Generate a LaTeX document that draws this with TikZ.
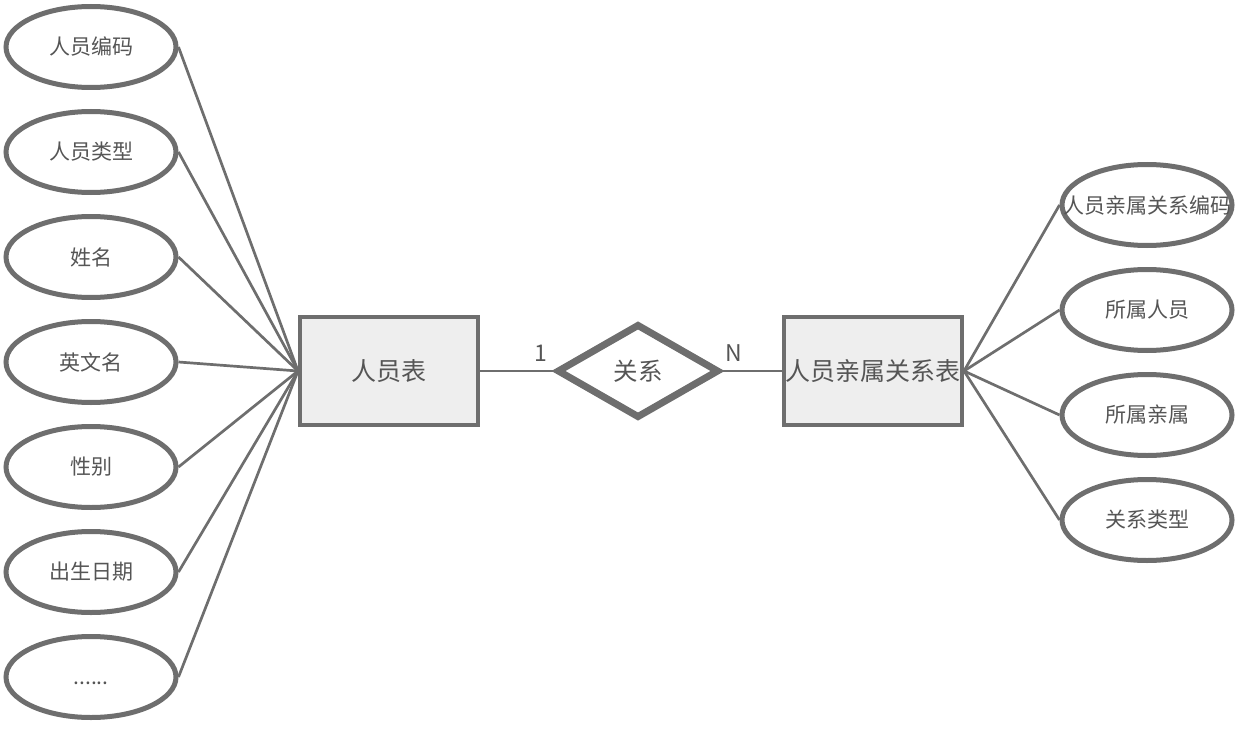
\documentclass[tikz,border=0pt]{standalone}
\usepackage{fontspec}
\setmainfont{Noto Sans CJK SC}
\usetikzlibrary{shapes.geometric}
\definecolor{edgegray}{HTML}{6E6E6E}
\definecolor{txtgray}{HTML}{555555}
\definecolor{boxfill}{HTML}{EEEEEE}
\begin{document}
\begin{tikzpicture}[x=1pt,y=-1pt,
  attr/.style={ellipse,draw=edgegray,line width=5pt,fill=white,minimum width=170pt,minimum height=81pt,inner sep=0pt,text=txtgray,font=\fontsize{21}{21}\selectfont},
  entity/.style={rectangle,draw=edgegray,line width=4pt,fill=boxfill,minimum width=178pt,minimum height=108pt,inner sep=0pt,text=txtgray,font=\fontsize{25}{25}\selectfont},
  rel/.style={diamond,draw=edgegray,line width=7pt,fill=white,minimum width=162pt,minimum height=94pt,inner sep=0pt,text=txtgray,font=\fontsize{24.5}{25}\selectfont},
  conn/.style={draw=edgegray,line width=2.7pt},
  card/.style={text=txtgray,font=\fontsize{23}{23}\selectfont,inner sep=0pt}]
\useasboundingbox (0,0) rectangle (1242,741);
\node[entity] (p) at (389,371) {人员表};
\node[entity] (r) at (873,371) {\makebox[0pt]{人员亲属关系表}};
\node[rel] (d) at (638,371) {关系};
\node[attr] (a1) at (91,47) {人员编码};
\node[attr] (a2) at (91,152) {人员类型};
\node[attr] (a3) at (91,257) {姓名};
\node[attr] (a4) at (91,362) {英文名};
\node[attr] (a5) at (91,467) {性别};
\node[attr] (a6) at (91,572) {出生日期};
\node[attr] (a7) at (91,677) {\raisebox{-7pt}[0pt][0pt]{......}};
\node[attr] (b1) at (1147,205) {\makebox[0pt]{人员亲属关系编码}};
\node[attr] (b2) at (1147,310) {所属人员};
\node[attr] (b3) at (1147,415) {所属亲属};
\node[attr] (b4) at (1147,520) {关系类型};
\node[card] (c1) at (541,353) {1};
\node[card] (c2) at (734,353) {N};
\foreach \i in {1,...,7} {\draw[conn] (a\i.east) -- (p.west);}
\foreach \i in {1,...,4} {\draw[conn] (b\i.west) -- (r.east);}
\draw[conn] (p.east) -- (d.west);
\draw[conn] (d.east) -- (r.west);
\end{tikzpicture}
\end{document}
